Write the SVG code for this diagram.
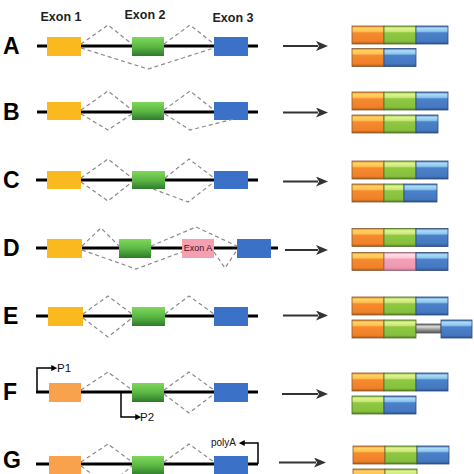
<svg xmlns="http://www.w3.org/2000/svg" width="474" height="474" viewBox="0 0 474 474">
<defs>
<linearGradient id="gEx2" x1="0" y1="0" x2="0" y2="1"><stop offset="0" stop-color="#80d85c"/><stop offset="0.5" stop-color="#5cb844"/><stop offset="1" stop-color="#2f7a2c"/></linearGradient>
<linearGradient id="bO" x1="0" y1="0" x2="0" y2="1"><stop offset="0" stop-color="#e07f2a"/><stop offset="0.12" stop-color="#ffd462"/><stop offset="0.3" stop-color="#ffc052"/><stop offset="0.38" stop-color="#f68b2e"/><stop offset="0.85" stop-color="#f08028"/><stop offset="1" stop-color="#a85a1c"/></linearGradient>
<linearGradient id="bG" x1="0" y1="0" x2="0" y2="1"><stop offset="0" stop-color="#7fb83a"/><stop offset="0.12" stop-color="#e2f290"/><stop offset="0.3" stop-color="#cbe87a"/><stop offset="0.38" stop-color="#8fc842"/><stop offset="0.85" stop-color="#86c03c"/><stop offset="1" stop-color="#557f26"/></linearGradient>
<linearGradient id="bB" x1="0" y1="0" x2="0" y2="1"><stop offset="0" stop-color="#3f6fb0"/><stop offset="0.12" stop-color="#acdcf8"/><stop offset="0.3" stop-color="#8cc4ee"/><stop offset="0.38" stop-color="#4c82ca"/><stop offset="0.85" stop-color="#4478c0"/><stop offset="1" stop-color="#2c5490"/></linearGradient>
<linearGradient id="bP" x1="0" y1="0" x2="0" y2="1"><stop offset="0" stop-color="#d9889c"/><stop offset="0.12" stop-color="#fde0e8"/><stop offset="0.3" stop-color="#fbc8d6"/><stop offset="0.38" stop-color="#f3a0b6"/><stop offset="0.85" stop-color="#ee98ae"/><stop offset="1" stop-color="#b86a80"/></linearGradient>
<linearGradient id="bY" x1="0" y1="0" x2="0" y2="1"><stop offset="0" stop-color="#666"/><stop offset="0.3" stop-color="#ddd"/><stop offset="0.6" stop-color="#999"/><stop offset="1" stop-color="#555"/></linearGradient>
<marker id="ah" viewBox="0 0 12 10" refX="2" refY="5" markerWidth="12" markerHeight="10" markerUnits="userSpaceOnUse" orient="auto"><path d="M0,0 L12,5 L0,10 L3,5 Z" fill="#333"/></marker>
<marker id="sa" viewBox="0 0 8 8" refX="1" refY="4" markerWidth="6" markerHeight="6" markerUnits="userSpaceOnUse" orient="auto"><path d="M0,0 L8,4 L0,8 Z" fill="#000"/></marker>
</defs>
<style>
.gl{stroke:#000;stroke-width:3;fill:none}
.e1{fill:#fab91e}
.e1o{fill:#f8a24e}
.e2{fill:url(#gEx2)}
.e3{fill:#3b72c8}
.eA{fill:#f4a0b0}
.dash{stroke:#8a8a8a;stroke-width:1.2;stroke-dasharray:4 3;fill:none}
.arr{stroke:#333;stroke-width:2.2;marker-end:url(#ah)}
.lt{font-family:"Liberation Sans",Arial,sans-serif;font-weight:bold;font-size:23px;fill:#000}
.hd{font-family:"Liberation Sans",Arial,sans-serif;font-weight:bold;font-size:12.5px;fill:#222;text-anchor:middle}
.sm{font-family:"Liberation Sans",Arial,sans-serif;font-size:11.5px;fill:#111}
.o{fill:url(#bO);stroke:#8a5a30;stroke-width:0.8}
.g{fill:url(#bG);stroke:#4f6e2a;stroke-width:0.8}
.b{fill:url(#bB);stroke:#2e4a78;stroke-width:0.8}
.p{fill:url(#bP);stroke:#9a6070;stroke-width:0.8}
.y{fill:url(#bY);stroke:#555;stroke-width:0.8}
.pr{stroke:#000;stroke-width:1.5;fill:none;marker-end:url(#sa)}
</style>

<g id="headers">
<text class="hd" x="61" y="21">Exon 1</text>
<text class="hd" x="145" y="19">Exon 2</text>
<text class="hd" x="233" y="22">Exon 3</text>
</g>

<g id="rowA">
<text class="lt" x="3" y="54">A</text>
<line class="gl" x1="37" y1="46" x2="258" y2="46"/>
<rect class="e1" x="47" y="37" width="34" height="19"/>
<rect class="e2" x="132" y="37" width="32" height="19"/>
<rect class="e3" x="214" y="37" width="34" height="19"/>
</g>
<g id="rowB">
<text class="lt" x="3" y="120">B</text>
<line class="gl" x1="37" y1="112" x2="258" y2="112"/>
<rect class="e1" x="47" y="102" width="34" height="18"/>
<rect class="e2" x="132" y="102" width="32" height="18"/>
<rect class="e3" x="214" y="102" width="34" height="18"/>
</g>
<g id="rowC">
<text class="lt" x="3" y="188">C</text>
<line class="gl" x1="36" y1="180" x2="258" y2="180"/>
<rect class="e1" x="47" y="171" width="34" height="18"/>
<rect class="e2" x="132" y="171" width="33" height="18"/>
<rect class="e3" x="214" y="171" width="34" height="18"/>
</g>
<g id="rowD">
<text class="lt" x="3" y="256">D</text>
<line class="gl" x1="36" y1="248" x2="278" y2="248"/>
<rect class="e1" x="47" y="239" width="35" height="19"/>
<rect class="e2" x="119" y="239" width="32" height="19"/>
<rect class="eA" x="182" y="239" width="32" height="19"/>
<text class="sm" x="198" y="251" text-anchor="middle" style="font-size:9px;fill:#4a1020">Exon A</text>
<rect class="e3" x="237" y="239" width="34" height="19"/>
</g>
<g id="rowE">
<text class="lt" x="3" y="324">E</text>
<line class="gl" x1="36" y1="316" x2="258" y2="316"/>
<rect class="e1" x="48" y="307" width="35" height="19"/>
<rect class="e2" x="132" y="307" width="33" height="19"/>
<rect class="e3" x="214" y="307" width="34" height="19"/>
</g>
<g id="rowF">
<text class="lt" x="3" y="400">F</text>
<line class="gl" x1="36" y1="392" x2="258" y2="392"/>
<rect class="e1o" x="49" y="383" width="32" height="19"/>
<rect class="e2" x="132" y="383" width="32" height="19"/>
<rect class="e3" x="214" y="383" width="34" height="19"/>
</g>
<g id="rowG">
<text class="lt" x="3" y="468">G</text>
<line class="gl" x1="36" y1="464" x2="258" y2="464"/>
<rect class="e1o" x="49" y="456" width="32" height="19"/>
<rect class="e2" x="132" y="456" width="32" height="19"/>
<rect class="e3" x="214" y="456" width="34" height="19"/>
</g>

<g id="promoters">
<path class="pr" d="M37,392 V368 H52"/>
<text class="sm" x="57" y="372">P1</text>
<path class="pr" d="M121,392 V417 H136"/>
<text class="sm" x="140" y="421">P2</text>
<path class="pr" d="M258,464 V443 H244"/>
<text class="sm" x="211" y="446" style="font-size:10px">polyA</text>
</g>

<g id="connectors">
<polyline class="dash" points="81,44 108,25 132,44"/>
<polyline class="dash" points="164,44 190,25 214,44"/>
<polyline class="dash" points="81,48 148,69 214,48"/>

<polyline class="dash" points="81,110 108,91 132,110"/>
<polyline class="dash" points="81,114 108,130 132,114"/>
<polyline class="dash" points="164,110 190,91 214,110"/>
<polyline class="dash" points="165,114 190,130 234,119"/>

<polyline class="dash" points="81,178 108,159 132,178"/>
<polyline class="dash" points="81,182 108,201 132,182"/>
<polyline class="dash" points="165,178 189,159 214,178"/>
<polyline class="dash" points="153,189 188,202 214,182"/>

<polyline class="dash" points="82,246 101,228 119,246"/>
<polyline class="dash" points="151,246 196,227 237,246"/>
<polyline class="dash" points="82,250 136,269 182,252"/>
<polyline class="dash" points="214,252 225,268 237,250"/>

<polyline class="dash" points="83,314 108,296 132,314"/>
<polyline class="dash" points="83,318 108,337 132,318"/>
<polyline class="dash" points="165,314 189,296 214,314"/>

<polyline class="dash" points="81,390 108,372 132,390"/>
<polyline class="dash" points="164,390 189,372 214,390"/>
<polyline class="dash" points="164,394 189,413 214,394"/>

<polyline class="dash" points="81,462 108,444 132,462"/>
<polyline class="dash" points="164,462 189,444 214,462"/>
<polyline class="dash" points="81,466 108,486 132,466"/>

<line class="arr" x1="283" y1="46" x2="318" y2="46"/>
<line class="arr" x1="283" y1="112.5" x2="318" y2="112.5"/>
<line class="arr" x1="283" y1="181.5" x2="318" y2="181.5"/>
<line class="arr" x1="285" y1="250" x2="318" y2="250"/>
<line class="arr" x1="283" y1="315.5" x2="318" y2="315.5"/>
<line class="arr" x1="282" y1="394" x2="318" y2="394"/>
<line class="arr" x1="279" y1="462.5" x2="316" y2="462.5"/>
</g>

<g id="mrnaA">
<rect class="o" x="352" y="26" width="32" height="18"/><rect class="g" x="384" y="26" width="32" height="18"/><rect class="b" x="416" y="26" width="32" height="18"/>
<rect class="o" x="352" y="48.5" width="32" height="18"/><rect class="b" x="384" y="48.5" width="32" height="18"/>
</g>
<g id="mrnaB">
<rect class="o" x="352" y="92" width="32" height="18"/><rect class="g" x="384" y="92" width="32" height="18"/><rect class="b" x="416" y="92" width="32" height="18"/>
<rect class="o" x="352" y="115" width="32" height="18"/><rect class="g" x="384" y="115" width="32" height="18"/><rect class="b" x="416" y="115" width="22" height="18"/>
</g>
<g id="mrnaC">
<rect class="o" x="352" y="161" width="32" height="18"/><rect class="g" x="384" y="161" width="32" height="18"/><rect class="b" x="416" y="161" width="32" height="18"/>
<rect class="o" x="352" y="184" width="32" height="18"/><rect class="g" x="384" y="184" width="20" height="18"/><rect class="b" x="404" y="184" width="33" height="18"/>
</g>
<g id="mrnaD">
<rect class="o" x="352" y="228.5" width="32" height="18"/><rect class="g" x="384" y="228.5" width="32" height="18"/><rect class="b" x="416" y="228.5" width="32" height="18"/>
<rect class="o" x="352" y="252.5" width="32" height="18"/><rect class="p" x="384" y="252.5" width="32" height="18"/><rect class="b" x="416" y="252.5" width="32" height="18"/>
</g>
<g id="mrnaE">
<rect class="o" x="352" y="297" width="32" height="18"/><rect class="g" x="384" y="297" width="32" height="18"/><rect class="b" x="416" y="297" width="32" height="18"/>
<rect class="o" x="352" y="320" width="32" height="18"/><rect class="g" x="384" y="320" width="32" height="18"/><rect class="y" x="416" y="324" width="25" height="9"/><rect class="b" x="441" y="320" width="31" height="18"/>
</g>
<g id="mrnaF">
<rect class="o" x="352" y="373" width="32" height="18"/><rect class="g" x="384" y="373" width="32" height="18"/><rect class="b" x="416" y="373" width="32" height="18"/>
<rect class="g" x="352" y="396" width="32" height="18"/><rect class="b" x="384" y="396" width="32" height="18"/>
</g>
<g id="mrnaG">
<rect class="o" x="353" y="446" width="32" height="18"/><rect class="g" x="385" y="446" width="32" height="18"/><rect class="b" x="417" y="446" width="32" height="18"/>
<rect class="o" x="353" y="469" width="32" height="18"/><rect class="g" x="385" y="469" width="32" height="18"/>
</g>
</svg>
